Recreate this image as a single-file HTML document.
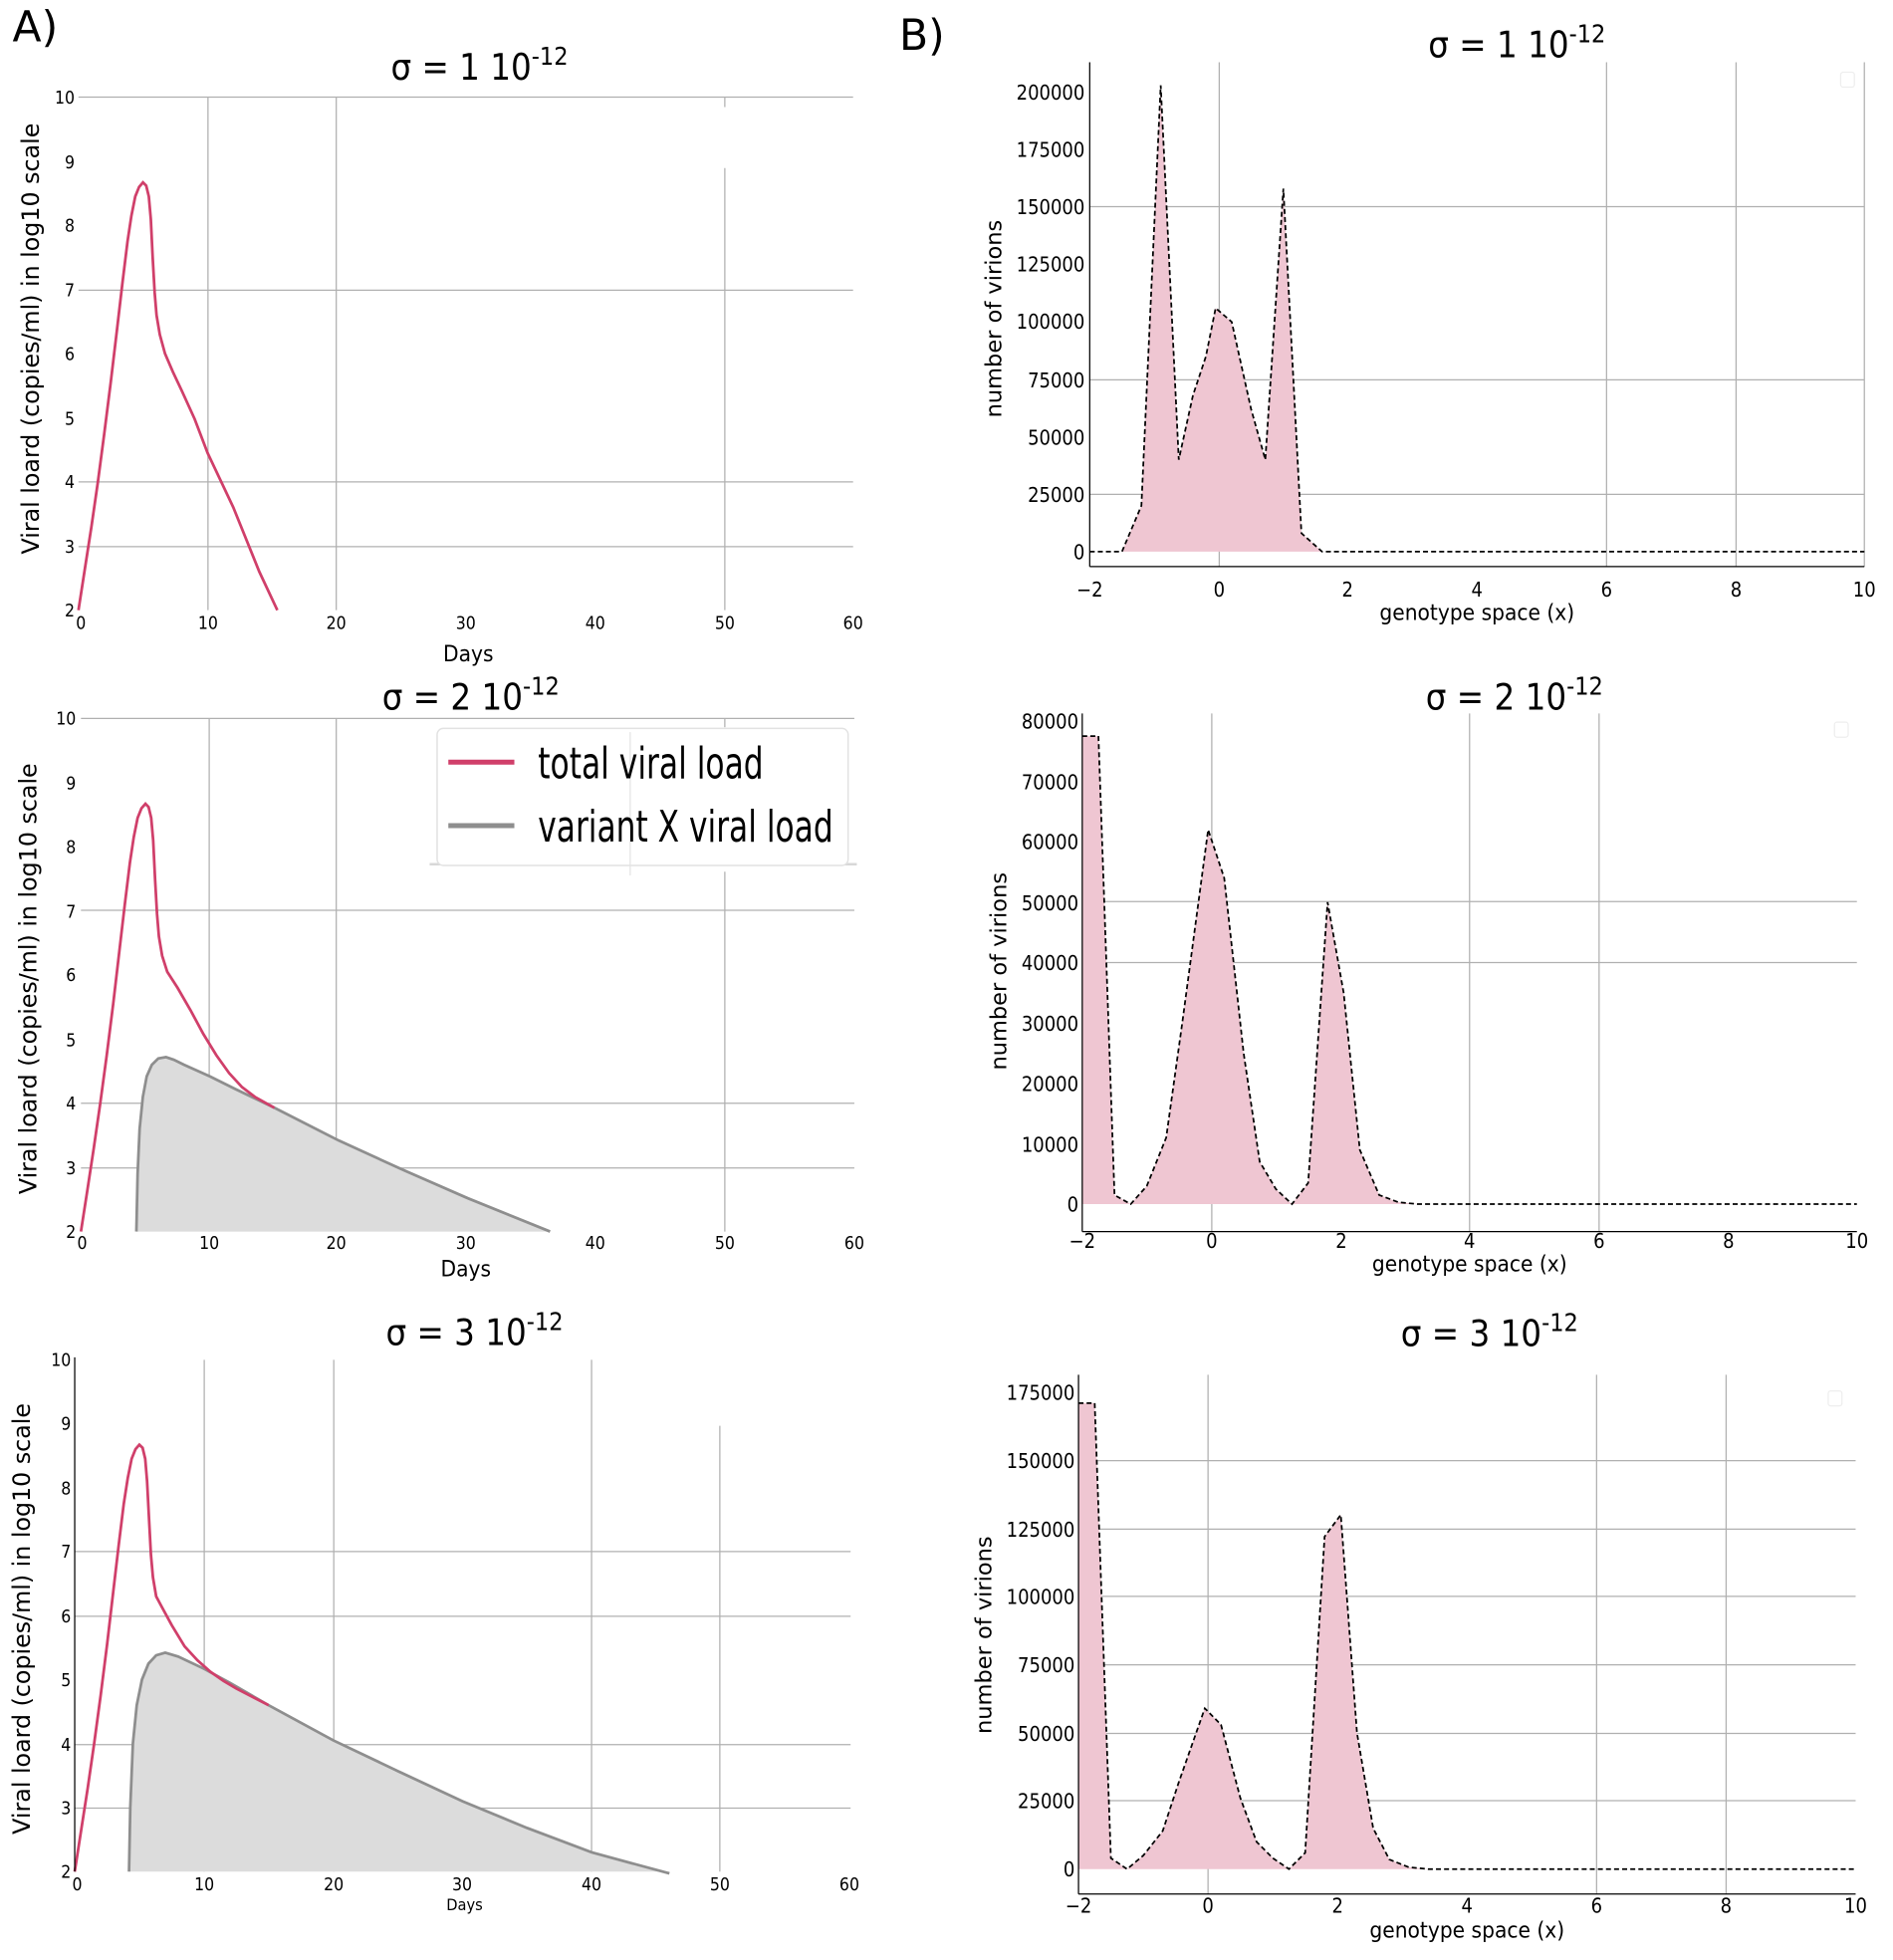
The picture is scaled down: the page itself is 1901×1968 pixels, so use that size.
<!DOCTYPE html>
<html><head><meta charset="utf-8"><style>
html,body{margin:0;padding:0;background:#fff;}
svg{display:block;}
text{font-family:"DejaVu Sans Condensed","DejaVu Sans","Liberation Sans",sans-serif;fill:#000;}
.lab{font-family:"DejaVu Sans","Liberation Sans",sans-serif;}
.g{stroke:#b0b0b0;stroke-width:1;}
.tA{font-size:14px;}
.tB{font-size:16px;}
.ttl{font-size:29px;}
</style></head><body>
<svg width="1901" height="1968" viewBox="0 0 1520 1574" preserveAspectRatio="none" xmlns="http://www.w3.org/2000/svg">
<rect width="1520" height="1574" fill="#fff"/>
<text x="10" y="33" class="lab" style="font-size:34px">A)</text>
<text x="722" y="40" class="lab" style="font-size:34px">B)</text>

<g>
<line class="g" x1="63" y1="78" x2="685" y2="78"/>
<line class="g" x1="63" y1="233" x2="685" y2="233"/>
<line class="g" x1="63" y1="387" x2="685" y2="387"/>
<line class="g" x1="63" y1="439" x2="685" y2="439"/>
<line class="g" x1="167" y1="78" x2="167" y2="490"/>
<line class="g" x1="270" y1="78" x2="270" y2="490"/>
<line class="g" x1="582" y1="78" x2="582" y2="86"/>
<line class="g" x1="582" y1="135" x2="582" y2="490"/>
<text x="385" y="64" text-anchor="middle" class="ttl">σ = 1 10<tspan dy="-12" font-size="20">-12</tspan></text>
<g class="tA" text-anchor="end">
<text x="60" y="83">10</text><text x="60" y="135">9</text><text x="60" y="186">8</text><text x="60" y="238">7</text><text x="60" y="289">6</text><text x="60" y="341">5</text><text x="60" y="392">4</text><text x="60" y="444">3</text><text x="60" y="495">2</text>
</g>
<g class="tA" text-anchor="middle">
<text x="65" y="505">0</text><text x="167" y="505">10</text><text x="270" y="505">20</text><text x="374" y="505">30</text><text x="478" y="505">40</text><text x="582" y="505">50</text><text x="685" y="505">60</text>
</g>
<text x="376" y="531" text-anchor="middle" style="font-size:18px">Days</text>
<text class="lab" transform="translate(31,272) rotate(-90)" text-anchor="middle" style="font-size:19px">Viral loard (copies/ml) in log10 scale</text>
<path id="a1t" fill="none" stroke="#d03f6a" stroke-width="2.2"/>
</g>

<g>
<line class="g" x1="65" y1="577" x2="686" y2="577"/>
<line class="g" x1="65" y1="731" x2="686" y2="731"/>
<line class="g" x1="65" y1="886" x2="686" y2="886"/>
<line class="g" x1="65" y1="938" x2="686" y2="938"/>
<line class="g" x1="168" y1="577" x2="168" y2="989"/>
<line class="g" x1="270" y1="577" x2="270" y2="989"/>
<line class="g" x1="582" y1="577" x2="582" y2="584"/>
<line class="g" x1="582" y1="700" x2="582" y2="989"/>
<path id="a2f" fill="#dcdcdc"/>
<path id="a2g" fill="none" stroke="#8e8e8e" stroke-width="2.2"/>
<path id="a2t" fill="none" stroke="#d03f6a" stroke-width="2.2"/>
<text x="378" y="570" text-anchor="middle" class="ttl">σ = 2 10<tspan dy="-12" font-size="20">-12</tspan></text>
<g class="tA" text-anchor="end">
<text x="61" y="582">10</text><text x="61" y="634">9</text><text x="61" y="685">8</text><text x="61" y="737">7</text><text x="61" y="788">6</text><text x="61" y="840">5</text><text x="61" y="891">4</text><text x="61" y="943">3</text><text x="61" y="994">2</text>
</g>
<g class="tA" text-anchor="middle">
<text x="66" y="1003">0</text><text x="168" y="1003">10</text><text x="270" y="1003">20</text><text x="374" y="1003">30</text><text x="478" y="1003">40</text><text x="582" y="1003">50</text><text x="686" y="1003">60</text>
</g>
<text x="374" y="1025" text-anchor="middle" style="font-size:18px">Days</text>
<text class="lab" transform="translate(29,786) rotate(-90)" text-anchor="middle" style="font-size:19px">Viral loard (copies/ml) in log10 scale</text>
<line x1="345" y1="694" x2="688" y2="694" stroke="#d8d8d8" stroke-width="2"/>
<rect x="351" y="585" width="330" height="110" rx="5" fill="#fff" stroke="#e2e2e2" stroke-width="1.2"/>
<line x1="506" y1="588" x2="506" y2="703" stroke="#e4e4e4" stroke-width="1"/>
<line x1="360" y1="612" x2="413" y2="612" stroke="#d03f6a" stroke-width="4"/>
<line x1="360" y1="663" x2="413" y2="663" stroke="#8e8e8e" stroke-width="4"/>
<text x="432" y="625" style="font-size:35px" textLength="181" lengthAdjust="spacingAndGlyphs">total viral load</text>
<text x="432" y="676" style="font-size:35px" textLength="237" lengthAdjust="spacingAndGlyphs">variant X viral load</text>
</g>

<g>
<line class="g" x1="60" y1="1246" x2="683" y2="1246"/>
<line class="g" x1="60" y1="1298" x2="683" y2="1298"/>
<line class="g" x1="60" y1="1401" x2="683" y2="1401"/>
<line class="g" x1="60" y1="1452" x2="683" y2="1452"/>
<line class="g" x1="164" y1="1092" x2="164" y2="1503"/>
<line class="g" x1="268" y1="1092" x2="268" y2="1503"/>
<line class="g" x1="475" y1="1092" x2="475" y2="1503"/>
<line class="g" x1="578" y1="1145" x2="578" y2="1503"/>
<path id="a3f" fill="#dcdcdc"/>
<path id="a3g" fill="none" stroke="#8e8e8e" stroke-width="2.2"/>
<path id="a3t" fill="none" stroke="#d03f6a" stroke-width="2.2"/>
<line x1="60" y1="1090" x2="60" y2="1503" stroke="#000" stroke-width="1"/>
<text x="381" y="1080" text-anchor="middle" class="ttl">σ = 3 10<tspan dy="-12" font-size="20">-12</tspan></text>
<g class="tA" text-anchor="end">
<text x="57" y="1097">10</text><text x="57" y="1148">9</text><text x="57" y="1200">8</text><text x="57" y="1251">7</text><text x="57" y="1303">6</text><text x="57" y="1354">5</text><text x="57" y="1406">4</text><text x="57" y="1457">3</text><text x="57" y="1508">2</text>
</g>
<g class="tA" text-anchor="middle">
<text x="62" y="1518">0</text><text x="164" y="1518">10</text><text x="268" y="1518">20</text><text x="371" y="1518">30</text><text x="475" y="1518">40</text><text x="578" y="1518">50</text><text x="682" y="1518">60</text>
</g>
<text x="373" y="1534" text-anchor="middle" style="font-size:13px">Days</text>
<text class="lab" transform="translate(24,1300) rotate(-90)" text-anchor="middle" style="font-size:19px">Viral loard (copies/ml) in log10 scale</text>
</g>

<g>
<line class="g" x1="875" y1="166" x2="1497" y2="166"/>
<line class="g" x1="875" y1="305" x2="1497" y2="305"/>
<line class="g" x1="875" y1="397" x2="1497" y2="397"/>
<line class="g" x1="979" y1="50" x2="979" y2="455"/>
<line class="g" x1="1290" y1="50" x2="1290" y2="455"/>
<line class="g" x1="1394" y1="50" x2="1394" y2="455"/>
<line class="g" x1="1497" y1="50" x2="1497" y2="455"/>
<path id="b1f" fill="#efc6d2"/>
<path id="b1l" fill="none" stroke="#000" stroke-width="1.4" stroke-dasharray="4,2.5"/>
<line x1="875" y1="50" x2="875" y2="455" stroke="#000"/>
<line x1="875" y1="455" x2="1497" y2="455" stroke="#000"/>
<rect x="1478" y="58" width="11" height="12" rx="2" fill="none" stroke="#eee"/>
<text x="1218" y="46" text-anchor="middle" class="ttl">σ = 1 10<tspan dy="-12" font-size="20">-12</tspan></text>
<g class="tB" text-anchor="end">
<text x="871" y="80">200000</text><text x="871" y="126">175000</text><text x="871" y="172">150000</text><text x="871" y="218">125000</text><text x="871" y="264">100000</text><text x="871" y="311">75000</text><text x="871" y="357">50000</text><text x="871" y="403">25000</text><text x="871" y="449">0</text>
</g>
<g class="tB" text-anchor="middle">
<text x="875" y="479">−2</text><text x="979" y="479">0</text><text x="1082" y="479">2</text><text x="1186" y="479">4</text><text x="1290" y="479">6</text><text x="1394" y="479">8</text><text x="1497" y="479">10</text>
</g>
<text x="1186" y="498" text-anchor="middle" style="font-size:18px">genotype space (x)</text>
<text class="lab" transform="translate(804,256) rotate(-90)" text-anchor="middle" style="font-size:18px">number of virions</text>
</g>

<g>
<line class="g" x1="869" y1="724" x2="1491" y2="724"/>
<line class="g" x1="869" y1="773" x2="1491" y2="773"/>
<line class="g" x1="973" y1="573" x2="973" y2="989"/>
<line class="g" x1="1180" y1="573" x2="1180" y2="989"/>
<line class="g" x1="1284" y1="573" x2="1284" y2="989"/>
<path id="b2f" fill="#efc6d2"/>
<path id="b2l" fill="none" stroke="#000" stroke-width="1.4" stroke-dasharray="4,2.5"/>
<line x1="869" y1="573" x2="869" y2="989" stroke="#000"/>
<line x1="869" y1="989" x2="1491" y2="989" stroke="#000"/>
<rect x="1473" y="580" width="11" height="12" rx="2" fill="none" stroke="#eee"/>
<text x="1216" y="570" text-anchor="middle" class="ttl">σ = 2 10<tspan dy="-12" font-size="20">-12</tspan></text>
<g class="tB" text-anchor="end">
<text x="866" y="585">80000</text><text x="866" y="634">70000</text><text x="866" y="682">60000</text><text x="866" y="731">50000</text><text x="866" y="779">40000</text><text x="866" y="828">30000</text><text x="866" y="876">20000</text><text x="866" y="925">10000</text><text x="866" y="973">0</text>
</g>
<g class="tB" text-anchor="middle">
<text x="869" y="1002">−2</text><text x="973" y="1002">0</text><text x="1077" y="1002">2</text><text x="1180" y="1002">4</text><text x="1284" y="1002">6</text><text x="1388" y="1002">8</text><text x="1491" y="1002">10</text>
</g>
<text x="1180" y="1021" text-anchor="middle" style="font-size:18px">genotype space (x)</text>
<text class="lab" transform="translate(808,780) rotate(-90)" text-anchor="middle" style="font-size:18px">number of virions</text>
</g>

<g>
<line class="g" x1="866" y1="1173" x2="1490" y2="1173"/>
<line class="g" x1="866" y1="1228" x2="1490" y2="1228"/>
<line class="g" x1="866" y1="1282" x2="1490" y2="1282"/>
<line class="g" x1="866" y1="1337" x2="1490" y2="1337"/>
<line class="g" x1="866" y1="1392" x2="1490" y2="1392"/>
<line class="g" x1="866" y1="1446" x2="1490" y2="1446"/>
<line class="g" x1="970" y1="1104" x2="970" y2="1521"/>
<line class="g" x1="1282" y1="1104" x2="1282" y2="1521"/>
<line class="g" x1="1386" y1="1104" x2="1386" y2="1521"/>
<path id="b3f" fill="#efc6d2"/>
<path id="b3l" fill="none" stroke="#000" stroke-width="1.4" stroke-dasharray="4,2.5"/>
<line x1="866" y1="1104" x2="866" y2="1521" stroke="#000"/>
<line x1="866" y1="1521" x2="1490" y2="1521" stroke="#000"/>
<rect x="1468" y="1117" width="11" height="12" rx="2" fill="none" stroke="#eee"/>
<text x="1196" y="1081" text-anchor="middle" class="ttl">σ = 3 10<tspan dy="-12" font-size="20">-12</tspan></text>
<g class="tB" text-anchor="end">
<text x="863" y="1124">175000</text><text x="863" y="1179">150000</text><text x="863" y="1234">125000</text><text x="863" y="1288">100000</text><text x="863" y="1343">75000</text><text x="863" y="1398">50000</text><text x="863" y="1452">25000</text><text x="863" y="1507">0</text>
</g>
<g class="tB" text-anchor="middle">
<text x="866" y="1536">−2</text><text x="970" y="1536">0</text><text x="1074" y="1536">2</text><text x="1178" y="1536">4</text><text x="1282" y="1536">6</text><text x="1386" y="1536">8</text><text x="1490" y="1536">10</text>
</g>
<text x="1178" y="1556" text-anchor="middle" style="font-size:18px">genotype space (x)</text>
<text class="lab" transform="translate(796,1313) rotate(-90)" text-anchor="middle" style="font-size:18px">number of virions</text>
</g>
</svg>
<script>
(function(){
function P(id,pts,fx,fy,close,base){
  var d="",i;
  for(i=0;i<pts.length;i++){d+=(i?"L":"M")+fx(pts[i][0]).toFixed(1)+","+fy(pts[i][1]).toFixed(1);}
  if(close){d+="L"+fx(pts[pts.length-1][0]).toFixed(1)+","+base+"L"+fx(pts[0][0]).toFixed(1)+","+base+"Z";}
  document.getElementById(id).setAttribute("d",d);
}
var rise=[[0,2],[0.5,2.65],[1,3.3],[1.5,4.0],[2,4.75],[2.5,5.55],[3,6.4],[3.4,7.1],[3.8,7.75],[4.1,8.15],[4.4,8.45],[4.7,8.6],[5.0,8.67],[5.25,8.62],[5.45,8.45],[5.6,8.1],[5.75,7.5],[5.9,6.95],[6.05,6.6],[6.3,6.3]];
var a1=rise.concat([[6.7,6.0],[7.3,5.72],[8,5.42],[9,4.98],[10,4.45],[12,3.6],[14,2.6],[15.4,2.0]]);
P("a1t",a1,function(d){return 63+d*10.37},function(v){return 490-(v-2)*51.5});
var fx2=function(d){return 65+d*10.35},fy2=function(v){return 989-(v-2)*51.5};
var g2=[[4.3,2],[4.4,2.9],[4.55,3.6],[4.8,4.1],[5.1,4.42],[5.5,4.6],[6,4.7],[6.6,4.72],[7.2,4.68],[8,4.6],[10,4.42],[12,4.22],[15,3.93],[20,3.42],[25,2.96],[30,2.52],[36.4,2]];
P("a2f",g2,fx2,fy2,true,989);P("a2g",g2,fx2,fy2);
var t2=rise.concat([[6.7,6.05],[7.5,5.8],[8.5,5.45],[9.5,5.08],[10.5,4.75],[11.5,4.47],[12.5,4.25],[13.5,4.1],[15,3.93]]);
P("a2t",t2,fx2,fy2);
var fx3=function(d){return 60+d*10.38},fy3=function(v){return 1503-(v-2)*51.4};
var g3=[[4.2,2],[4.3,3.0],[4.5,4.0],[4.8,4.6],[5.2,5.0],[5.7,5.25],[6.3,5.38],[7,5.42],[8,5.36],[10,5.17],[12,4.95],[15,4.6],[20,4.05],[25,3.57],[30,3.1],[35,2.68],[40,2.3],[46,1.97]];
P("a3f",g3,fx3,fy3,true,1503);P("a3g",g3,fx3,fy3);
var t3=rise.concat([[6.7,6.15],[7.5,5.85],[8.5,5.52],[9.5,5.3],[10.5,5.12],[11.5,4.98],[12.5,4.86],[15,4.6]]);
P("a3t",t3,fx3,fy3);
function tail(a,from){for(var x=from;x<9.9;x+=0.25)a.push([x,0]);a.push([10,0]);return a;}
var b1=tail([[-2,0],[-1.5,0],[-1.2,20000],[-0.9,203000],[-0.62,40000],[-0.4,68000],[-0.2,85000],[-0.05,106000],[0.2,100000],[0.5,62000],[0.72,40000],[1.0,158000],[1.28,8000],[1.6,0]],1.75);
var fxb1=function(x){return 875+(x+2)*51.83},fyb1=function(v){return 443-v*369/200000};
P("b1f",b1,fxb1,fyb1,true,443);P("b1l",b1,fxb1,fyb1);
var b2=tail([[-2,77500],[-1.75,77500],[-1.5,1500],[-1.25,0],[-1.0,3000],[-0.7,11000],[-0.45,30000],[-0.05,62000],[0.2,54000],[0.5,25000],[0.75,7000],[1.0,2500],[1.25,0],[1.5,3500],[1.8,50000],[2.05,35000],[2.3,9000],[2.6,1500],[2.9,300],[3.2,0]],3.45);
var fxb2=function(x){return 869+(x+2)*51.83},fyb2=function(v){return 967-v*388/80000};
P("b2f",b2,fxb2,fyb2,true,967);P("b2l",b2,fxb2,fyb2);
var b3=tail([[-2,171000],[-1.75,171000],[-1.5,4000],[-1.25,0],[-1.0,5000],[-0.7,14000],[-0.45,32000],[-0.05,59000],[0.2,53000],[0.5,26000],[0.75,10000],[1.0,4000],[1.25,0],[1.5,6000],[1.8,122000],[2.05,130000],[2.3,50000],[2.55,15000],[2.8,3500],[3.1,700],[3.4,0]],3.65);
var fxb3=function(x){return 866+(x+2)*52},fyb3=function(v){return 1501-v*383/175000};
P("b3f",b3,fxb3,fyb3,true,1501);P("b3l",b3,fxb3,fyb3);
})();
</script>
</body></html>
